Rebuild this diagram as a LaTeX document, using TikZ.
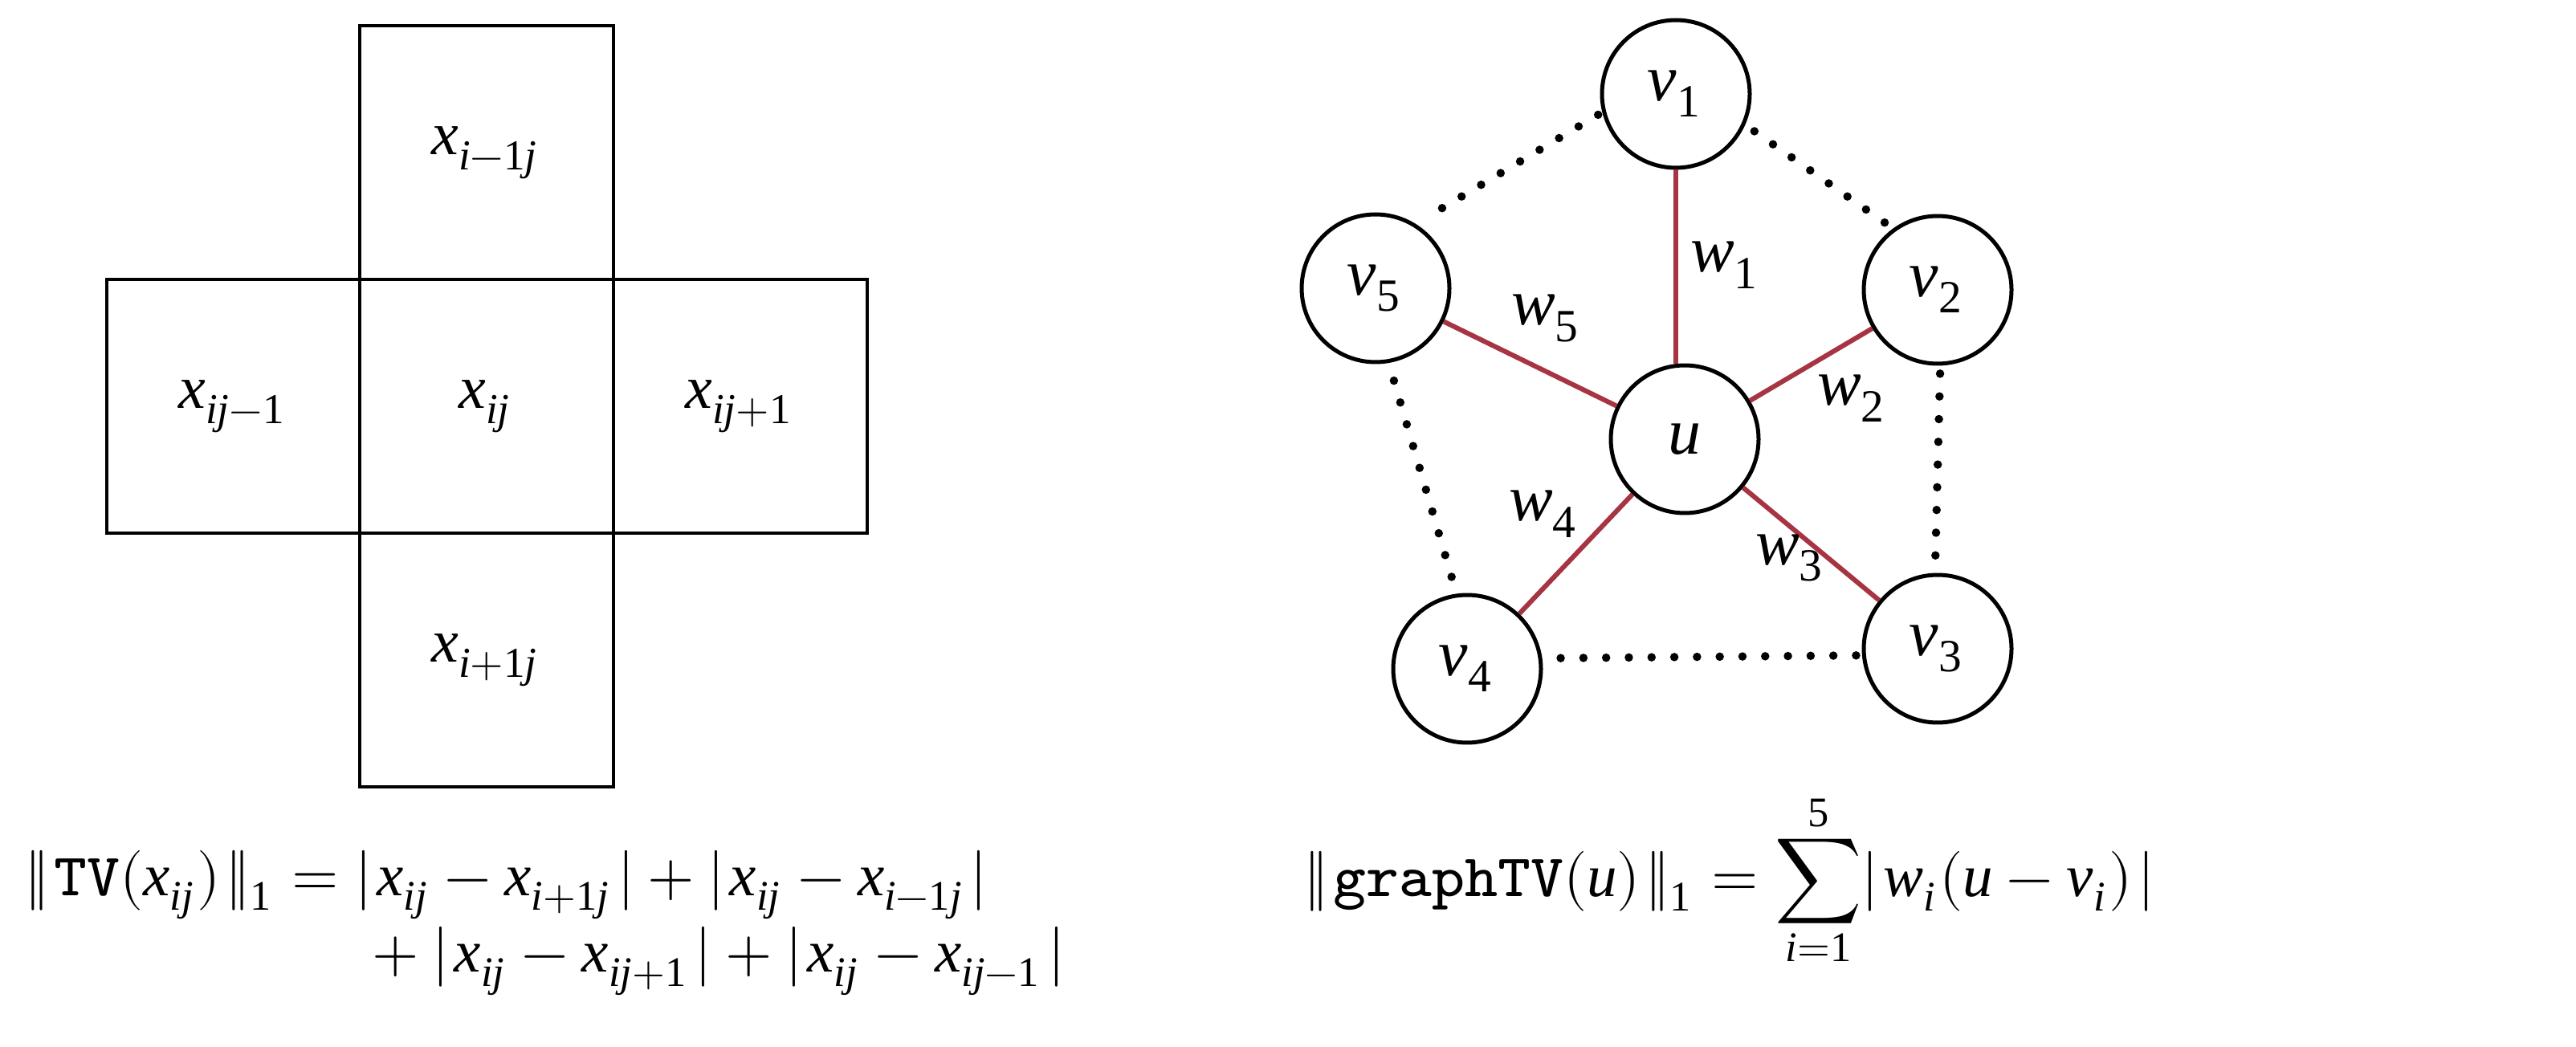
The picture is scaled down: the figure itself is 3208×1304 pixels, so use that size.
\documentclass[tikz,border=0pt]{standalone}
\usepackage{graphicx}
\usepackage{fontspec}
\usepackage{unicode-math}
\setmainfont{Liberation Serif}
\setmathfont{Latin Modern Math}
\setmathfont[range=it/{latin,Latin}]{Liberation Serif Italic}
\setmathfont[range=up/{num}]{Liberation Serif}
\definecolor{edgered}{RGB}{166,52,66}
\newcommand{\wtt}[1]{\scalebox{1.03}[1]{\texttt{#1}}}
\newcommand{\gp}{\mkern1.5mu}
\begin{document}
\begin{tikzpicture}[x=0.1pt,y=-0.1pt,
  cell/.style={draw, line width=0.4pt, minimum size=31.6pt, inner sep=0pt, font=\fontsize{7.6}{9}\selectfont},
  vnode/.style={draw, circle, line width=0.5pt, minimum size=18.4pt, inner sep=0pt, font=\fontsize{8.2}{10}\selectfont},
  rededge/.style={draw=edgered, line width=0.6pt},
  dotl/.style={line width=1.05pt, line cap=round, dash pattern=on 0pt off 2.83pt},
  wlab/.style={anchor=base west, inner sep=0pt, font=\fontsize{8.2}{10}\selectfont},
  eq/.style={anchor=base west, inner sep=0pt, font=\fontsize{7.5}{9}\selectfont}]
\useasboundingbox (0,0) rectangle (3208,1304);
% grid
\node[cell] (top) at (605.5,190) {$x_{i-1j}$};
\node[cell] (left) at (290.5,506) {$x_{ij-1}$};
\node[cell] (mid) at (605.5,506) {$x_{ij}$};
\node[cell] (right) at (921.5,506) {$x_{ij+1}$};
\node[cell] (bot) at (605.5,822) {$x_{i+1j}$};
% graph
\node[vnode] (v1) at (2087,117) {$v_1$};
\node[vnode] (v2) at (2413,361) {$v_2$};
\node[vnode] (v3) at (2413,808) {$v_3$};
\node[vnode] (v4) at (1827,833) {$v_4$};
\node[vnode] (v5) at (1713,359) {$v_5$};
\node[vnode] (u) at (2098,547) {$u$};
\draw[rededge] (v1.south) -- (v1.south |- u.north);
\draw[rededge] (u) -- (v2);
\draw[rededge] (u) -- (v3);
\draw[rededge] (u) -- (v4);
\draw[rededge] (u) -- (v5);
\node[wlab] (w1) at (2103,339) {$w_1$};
\node[wlab] (w2) at (2261,505) {$w_2$};
\node[wlab] (w3) at (2184,703) {$w_3$};
\node[wlab] (w4) at (1877,649) {$w_4$};
\node[wlab] (w5) at (1880,405) {$w_5$};
\draw[dotl, shorten <=0.6pt, shorten >=1pt] (v1.194) -- (v5.58);
\draw[dotl, shorten <=1.4pt, shorten >=1.2pt] (v1.-24) -- (v2.126);
\draw[dotl, shorten <=1pt, shorten >=1.8pt] (v2.-88) -- (v3.92);
\draw[dotl, shorten <=2.3pt, shorten >=2.1pt] (v5.-80) -- (v4.98);
\draw[dotl, shorten <=2.3pt, shorten >=0.3pt] (v4.8) -- (v3.185);
% equations
\node[eq] (eq1) at (29,1115) {$\lVert\gp\wtt{TV}(x_{ij})\gp\rVert_1 = \lvert\gp x_{ij} - x_{i+1j} \gp\rvert + \lvert\gp x_{ij} - x_{i-1j} \gp\rvert$};
\node[eq] (eq2) at (445,1210) {${}+ \lvert\gp x_{ij} - x_{ij+1} \gp\rvert + \lvert\gp x_{ij} - x_{ij-1} \gp\rvert$};
\node[eq] (eq3) at (1622,1116) {$\displaystyle \lVert\gp\wtt{graphTV}(u)\gp\rVert_1 = \sum_{i=1}^{5} \lvert\gp w_i(u - v_i) \gp\rvert$};
\end{tikzpicture}
\end{document}
